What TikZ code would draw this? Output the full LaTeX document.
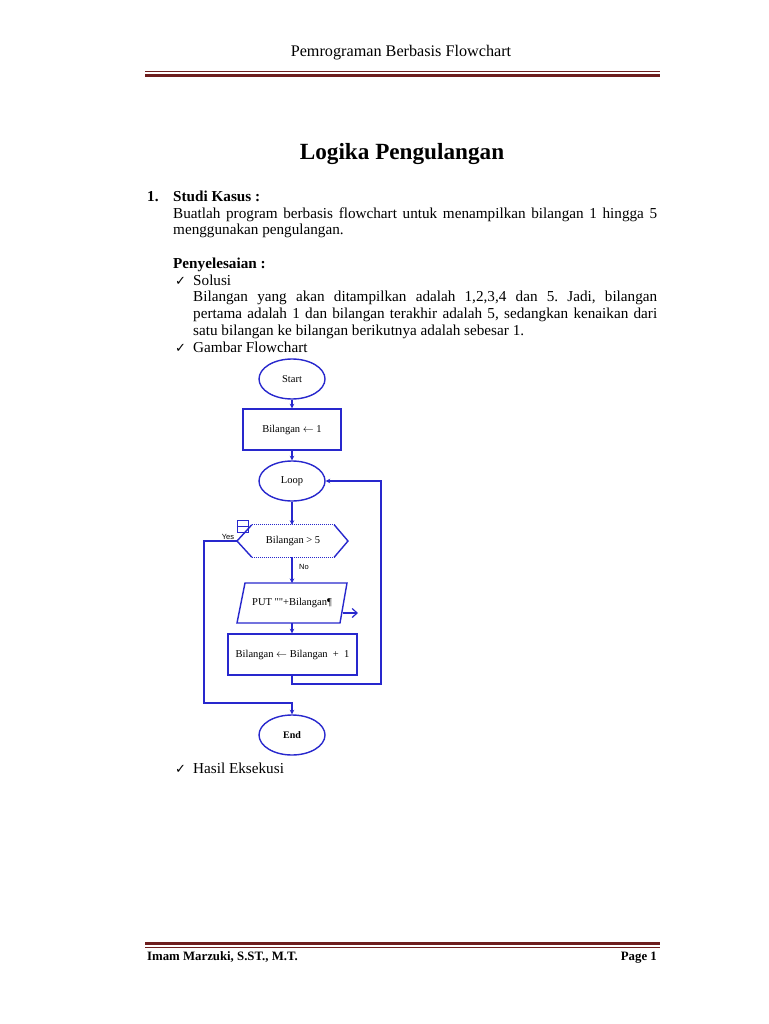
\documentclass[tikz,border=0pt]{standalone}
\usepackage{fontspec}
\setmainfont{Liberation Serif}
\newfontfamily\rawserif{Liberation Serif}
\newfontfamily\sansf{Liberation Sans}
\newfontfamily\symf{DejaVu Sans}
\usetikzlibrary{shapes.geometric,arrows.meta,calc}
\definecolor{fb}{RGB}{40,40,205}
\definecolor{hdrred}{RGB}{110,30,30}
\begin{document}
\frenchspacing
\begin{tikzpicture}[x=1pt,y=-1pt,
 fl/.style={draw=fb, line width=1.4pt},
 term/.style={fl, ellipse, minimum width=66pt, minimum height=40pt, inner sep=0pt, font=\fontsize{10.5}{12}\selectfont},
 proc/.style={fl, rectangle, inner sep=0pt, font=\fontsize{10.5}{12}\selectfont},
 conn/.style={draw=fb, line width=1.3pt, -{Stealth[length=4.5pt,width=4.5pt]}},
 body/.style={anchor=base west, inner sep=0pt, font=\fontsize{15.2}{17}\selectfont},
 bodyb/.style={body, font=\bfseries\fontsize{15.2}{17}\selectfont},
 chk/.style={anchor=base west, inner sep=0pt, font=\symf\fontsize{13}{15}\selectfont},
 lbl/.style={inner sep=0pt, font=\sansf\fontsize{7.5}{8}\selectfont},
]
\useasboundingbox (0,0) rectangle (768,1024);
\fill[white] (0,0) rectangle (768,1024);
% header
\node[anchor=base, inner sep=0pt, font=\fontsize{16.2}{18}\selectfont] (hdr) at (401,57) {Pemrograman Berbasis Flowchart};
\draw[hdrred, line width=1pt] (145,72) -- (660,72);
\draw[hdrred, line width=3pt] (145,75.5) -- (660,75.5);
% title
\node[anchor=base, inner sep=0pt, font=\bfseries\fontsize{23.2}{26}\selectfont] (title) at (402,160) {Logika Pengulangan};
% body
\node[bodyb] (num) at (147,202) {1.};
\node[bodyb] (studi) at (173,202) {Studi Kasus :};
\node[body] (p1a) at (173,218.5) {\makebox[484pt][s]{Buatlah program berbasis flowchart untuk menampilkan bilangan 1 hingga 5}};
\node[body] (p1b) at (173,235) {menggunakan pengulangan.};
\node[bodyb] (peny) at (173,268.5) {Penyelesaian :};
\node[chk] (c1) at (175,285) {✓};
\node[body] (sol) at (193,285) {Solusi};
\node[body] (p2a) at (193,301.5) {\makebox[464pt][s]{Bilangan yang akan ditampilkan adalah 1,2,3,4 dan 5. Jadi, bilangan}};
\node[body] (p2b) at (193,318.5) {\makebox[464pt][s]{pertama adalah 1 dan bilangan terakhir adalah 5, sedangkan kenaikan dari}};
\node[body] (p2c) at (193,335) {satu bilangan ke bilangan berikutnya adalah sebesar 1.};
\node[chk] (c2) at (175,352) {✓};
\node[body] (gam) at (193,352) {Gambar Flowchart};
\node[chk] (c3) at (175,773) {✓};
\node[body] (has) at (193,773) {Hasil Eksekusi};
% flowchart
\node[term] (start) at (292,379) {Start};
\node[proc, minimum width=98pt, minimum height=41pt] (init) at (292,429.5) {Bilangan $\leftarrow$ 1};
\node[term] (loop) at (292,481) {Loop};
\node[inner sep=0pt, minimum width=82pt, minimum height=32pt, font=\fontsize{10.5}{12}\selectfont] (cond) at (293,541) {Bilangan > 5};
\coordinate (cl) at (237,541);
\coordinate (cr) at (348,541);
\draw[fl] (cond.north west) -- (cl) -- (cond.south west);
\draw[fl] (cond.north east) -- (cr) -- (cond.south east);
\draw[draw=fb, line width=1pt, densely dotted] (cond.north west) -- (cond.north east);
\draw[draw=fb, line width=1pt, densely dotted] (cond.south west) -- (cond.south east);
\node[draw=fb, line width=0.9pt, minimum width=11pt, minimum height=12pt, inner sep=0pt] (icon) at (242.5,526) {};
\draw[draw=fb, line width=0.9pt] (icon.west) -- (icon.east);
\node[lbl] (yes) at (228,537) {Yes};
\node[lbl] (no) at (304,567) {No};
\node[inner sep=0pt, minimum width=100pt, minimum height=40pt, font=\rawserif\fontsize{10.5}{12}\selectfont] (put) at (292,603) {PUT ""+Bilangan¶};
\coordinate (pbl) at (237,623);
\coordinate (ptl) at (245,583);
\coordinate (ptr) at (347,583);
\coordinate (pbr) at (340,623);
\draw[fl] (pbl) -- (ptl) -- (ptr) -- (pbr) -- cycle;
\coordinate (outst) at (342.5,613);
\coordinate (outend) at (358,613);
\draw[draw=fb, line width=1.2pt, -{Straight Barb[length=5pt,width=9pt]}] (outst) -- (outend);
\node[proc, minimum width=129pt, minimum height=41pt] (inc) at (292.5,654.5) {Bilangan $\leftarrow$ Bilangan \ + \ 1};
\node[term, font=\bfseries\fontsize{10}{12}\selectfont] (end) at (292,735) {End};
% connectors
\draw[conn] (start) -- (init);
\draw[conn] (init) -- (loop);
\draw[conn] (loop.south) -- (loop.south |- cond.north);
\draw[conn] (loop.south |- cond.south) -- (loop.south |- ptl);
\draw[conn] (loop.south |- pbl) -- (loop.south |- inc.north);
\coordinate (lb) at (381,684);
\draw[conn] (loop.south |- inc.south) |- (lb) |- (loop.east);
\coordinate (yb) at (204,703);
\draw[conn] (cl) -| (yb) -| (end.north);
% footer
\draw[hdrred, line width=3pt] (145,943) -- (660,943);
\draw[hdrred, line width=1pt] (145,947) -- (660,947);
\node[anchor=base west, inner sep=0pt, font=\bfseries\fontsize{12.8}{14}\selectfont] (auth) at (147,960) {Imam Marzuki, S.ST., M.T.};
\node[anchor=base east, inner sep=0pt, font=\bfseries\fontsize{12.8}{14}\selectfont] (page) at (657,960) {Page 1};
\end{tikzpicture}
\end{document}
